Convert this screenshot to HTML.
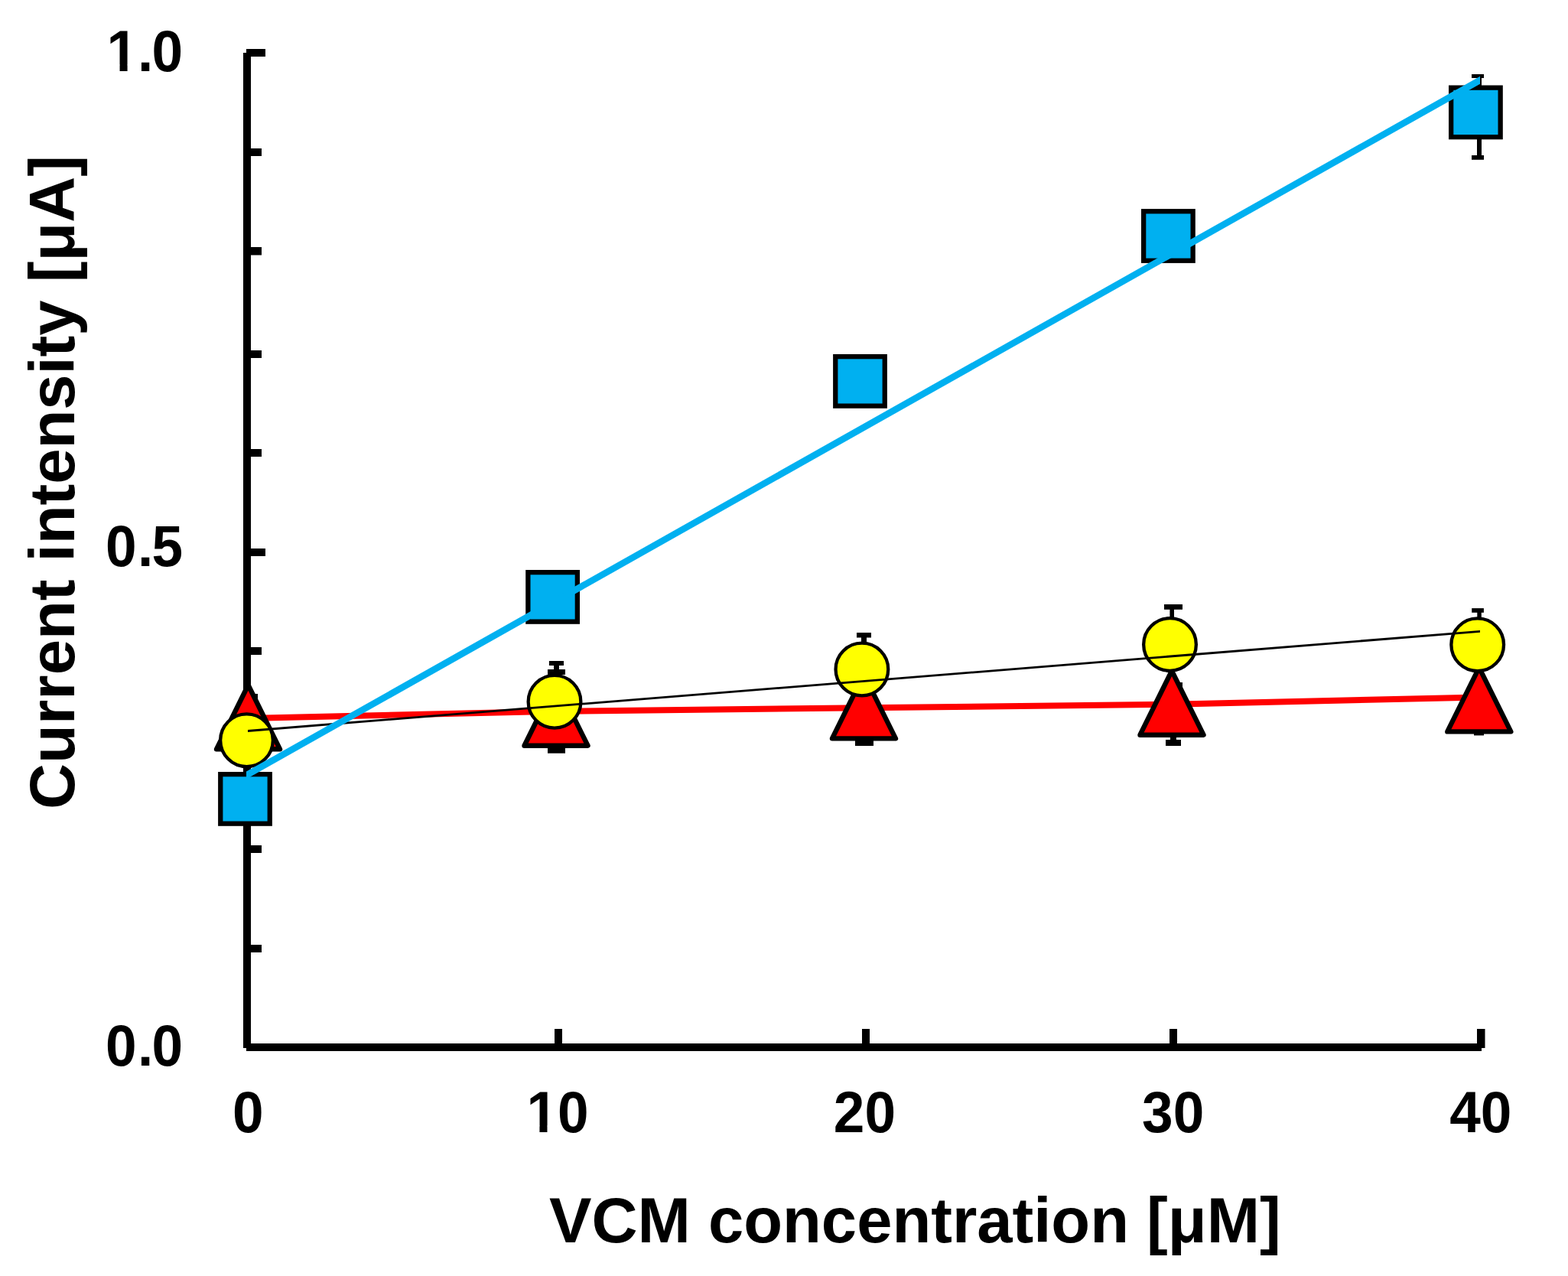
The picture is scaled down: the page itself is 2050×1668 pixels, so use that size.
<!DOCTYPE html>
<html><head><meta charset="utf-8"><title>Current intensity vs VCM concentration</title>
<style>
html,body{margin:0;padding:0;background:#fff;}
svg{display:block;}
text{font-family:'Liberation Sans', Arial, sans-serif;font-weight:bold;fill:#000;}
</style></head>
<body>
<svg width="2050" height="1668" viewBox="0 0 2050 1668">
<rect x="0" y="0" width="2050" height="1668" fill="#fff"/>
<rect x="318" y="69" width="10" height="1301" fill="#000"/>
<rect x="322" y="1364" width="1615" height="10" fill="#000"/>
<rect x="322" y="64" width="25" height="10" fill="#000"/>
<rect x="322" y="194" width="20" height="10" fill="#000"/>
<rect x="322" y="323" width="20" height="10.5" fill="#000"/>
<rect x="322" y="458" width="20" height="10" fill="#000"/>
<rect x="322" y="587" width="20" height="10" fill="#000"/>
<rect x="322" y="717" width="25" height="10" fill="#000"/>
<rect x="322" y="846" width="20" height="10" fill="#000"/>
<rect x="322" y="976" width="20" height="10" fill="#000"/>
<rect x="322" y="1105" width="20" height="10" fill="#000"/>
<rect x="322" y="1235" width="20" height="10" fill="#000"/>
<rect x="725" y="1345" width="10" height="25" fill="#000"/>
<rect x="1127" y="1345" width="10" height="25" fill="#000"/>
<rect x="1529" y="1345" width="10" height="25" fill="#000"/>
<rect x="1931" y="1345" width="10.5" height="25" fill="#000"/>
<polyline points="324.5,939 727,929.8 1129.5,925.25 1532,920.7 1933.8,911.4" fill="none" stroke="#FF0000" stroke-width="8" stroke-linejoin="round"/>
<rect x="717.9" y="864" width="19.1" height="6" fill="#000"/>
<rect x="724" y="870" width="7" height="45" fill="#000"/>
<rect x="1120" y="827" width="19" height="6.5" fill="#000"/>
<rect x="1126" y="833" width="7" height="42" fill="#000"/>
<rect x="1522" y="790" width="24" height="6.8" fill="#000"/>
<rect x="1529.4" y="796" width="5.6" height="46" fill="#000"/>
<rect x="1924.2" y="795.1" width="15.7" height="5.7" fill="#000"/>
<rect x="1931.3" y="800" width="5.5" height="42" fill="#000"/>
<rect x="318" y="907" width="19" height="7" fill="#000"/>
<rect x="716" y="875" width="23" height="7" fill="#000"/>
<rect x="716" y="974" width="23" height="10.7" fill="#000"/>
<rect x="724" y="878" width="7" height="103" fill="#000"/>
<rect x="1118" y="964" width="24" height="11" fill="#000"/>
<rect x="1126" y="930" width="8" height="41" fill="#000"/>
<rect x="1524" y="892" width="22" height="7.5" fill="#000"/>
<rect x="1524" y="967" width="20" height="8" fill="#000"/>
<rect x="1530" y="930" width="8" height="40" fill="#000"/>
<rect x="1927" y="955" width="13" height="6.4" fill="#000"/>
<rect x="1924" y="97" width="16" height="5" fill="#000"/>
<rect x="1924" y="203" width="16" height="5.8" fill="#000"/>
<rect x="1931" y="99" width="6" height="107" fill="#000"/>
<path d="M324.5 895.5 L366 979.3 L283 979.3 Z" fill="#FF0000" stroke="#000" stroke-width="6.4" stroke-linejoin="round"/>
<path d="M727 890.95 L768.5 974.75 L685.5 974.75 Z" fill="#FF0000" stroke="#000" stroke-width="6.4" stroke-linejoin="round"/>
<path d="M1129.45 881.55 L1170.95 965.35 L1087.95 965.35 Z" fill="#FF0000" stroke="#000" stroke-width="6.4" stroke-linejoin="round"/>
<path d="M1532 876.9 L1573.5 960.7 L1490.5 960.7 Z" fill="#FF0000" stroke="#000" stroke-width="6.4" stroke-linejoin="round"/>
<path d="M1933.8 872.6 L1975.3 956.4 L1892.3 956.4 Z" fill="#FF0000" stroke="#000" stroke-width="6.4" stroke-linejoin="round"/>
<circle cx="322.5" cy="967.7" r="34.35" fill="#FFFF00" stroke="#000" stroke-width="4.3"/>
<circle cx="725" cy="917.2" r="34.35" fill="#FFFF00" stroke="#000" stroke-width="4.3"/>
<circle cx="1126.9" cy="875" r="34.35" fill="#FFFF00" stroke="#000" stroke-width="4.3"/>
<circle cx="1529.5" cy="842.5" r="34.35" fill="#FFFF00" stroke="#000" stroke-width="4.3"/>
<circle cx="1931.7" cy="842.7" r="34.35" fill="#FFFF00" stroke="#000" stroke-width="4.3"/>
<clipPath id="c1"><rect x="324" y="0" width="1611" height="1668"/></clipPath>
<line x1="316.00" y1="956.15" x2="1943.00" y2="824.65" stroke="#000" stroke-width="2.8" stroke-linecap="butt" clip-path="url(#c1)"/>
<rect x="288.25" y="1012.15" width="64.5" height="64.5" fill="#00B0F0" stroke="#000" stroke-width="6.3"/>
<rect x="690.35" y="748.15" width="64.5" height="64.5" fill="#00B0F0" stroke="#000" stroke-width="6.3"/>
<rect x="1092.25" y="466.15" width="64.5" height="64.5" fill="#00B0F0" stroke="#000" stroke-width="6.3"/>
<rect x="1495.15" y="276.25" width="64.5" height="64.5" fill="#00B0F0" stroke="#000" stroke-width="6.3"/>
<rect x="1897.15" y="114.65" width="64.5" height="64.5" fill="#00B0F0" stroke="#000" stroke-width="6.3"/>
<clipPath id="c2"><rect x="322" y="0" width="1613" height="1668"/></clipPath>
<line x1="314.00" y1="1018.01" x2="1943.00" y2="100.19" stroke="#00B0F0" stroke-width="8.6" stroke-linecap="butt" clip-path="url(#c2)"/>
<text x="0" y="0" dx="2 0 -2" font-size="73" text-anchor="start" transform="translate(137.52 93) scale(1 1.047)">1.0</text>
<text x="0" y="0" dx="0.6 1.4 -2" font-size="73" text-anchor="start" transform="translate(137.52 740) scale(1 1.047)">0.5</text>
<text x="0" y="0" dx="0.6 1.4 -2" font-size="73" text-anchor="start" transform="translate(137.52 1393) scale(1 1.047)">0.0</text>
<rect x="142.37" y="84.60" width="14.19" height="9.40" fill="#fff"/>
<rect x="166.57" y="84.60" width="13.58" height="9.40" fill="#fff"/>
<text x="0" y="0" font-size="73" text-anchor="middle" transform="translate(324.4 1480) scale(1 1.047)">0</text>
<text x="0" y="0" font-size="73" text-anchor="middle" transform="translate(729 1480) scale(1 1.047)">10</text>
<text x="0" y="0" font-size="73" text-anchor="middle" transform="translate(1130.4 1480) scale(1 1.047)">20</text>
<text x="0" y="0" font-size="73" text-anchor="middle" transform="translate(1533.7 1480) scale(1 1.047)">30</text>
<text x="0" y="0" font-size="73" text-anchor="middle" transform="translate(1935.8 1480) scale(1 1.047)">40</text>
<rect x="691.25" y="1471.60" width="14.19" height="9.40" fill="#fff"/>
<rect x="715.46" y="1471.60" width="13.58" height="9.40" fill="#fff"/>
<text x="0" y="0" font-size="83.2" text-anchor="start" transform="translate(718 1624)">VCM concentration [μM]</text>
<text x="0" y="0" font-size="83.2" text-anchor="start" transform="translate(97 1058) rotate(-90)">Current intensity [μA]</text>
</svg>
</body></html>
